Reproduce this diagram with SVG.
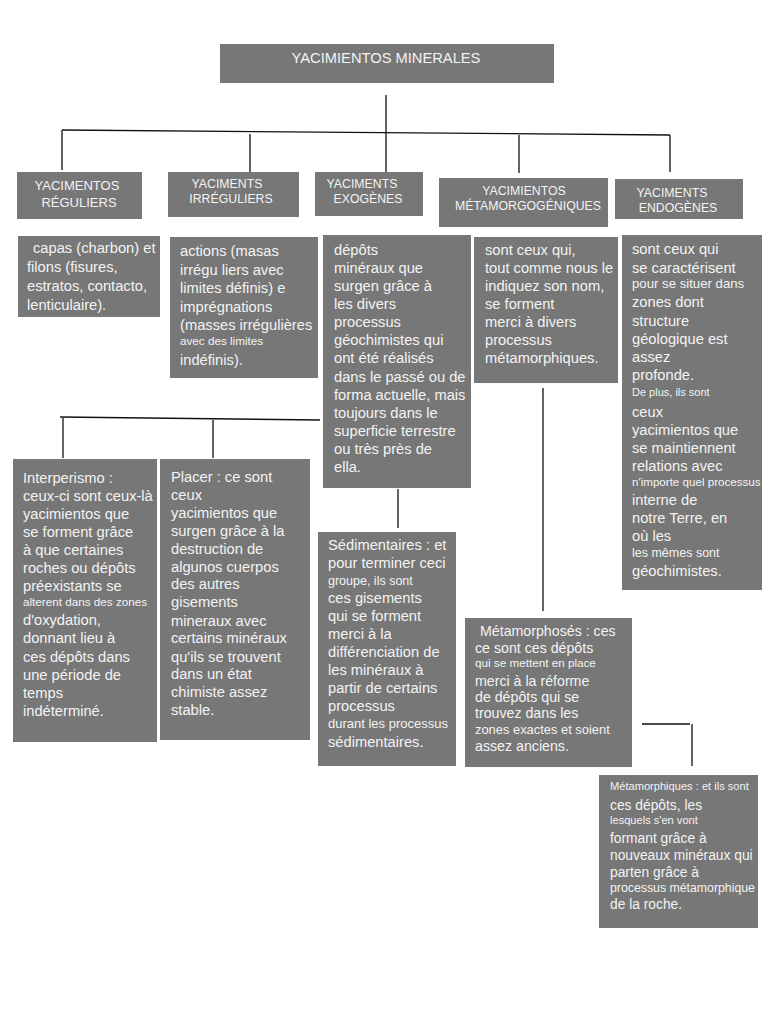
<svg xmlns="http://www.w3.org/2000/svg" width="768" height="1024" viewBox="0 0 768 1024">
<style>
.box{fill:#777777}
.t{font-family:"Liberation Sans",Arial,sans-serif;fill:#f3f3f3;font-size:14.7px}
.s{font-size:11.7px}
.m{font-size:12.5px}
.h{font-size:13px}
.hs{font-size:12.3px}
.ln{stroke:#111;stroke-width:1.3;fill:none}
</style>
<rect width="768" height="1024" fill="#ffffff"/>
<g id="connectors">
<path class="ln" d="M386 95 V131"/>
<path class="ln" d="M62 130 L670 135"/>
<path class="ln" d="M62 130 V170"/>
<path class="ln" d="M250 134 V172"/>
<path class="ln" d="M386 131 V172"/>
<path class="ln" d="M519 135 V173"/>
<path class="ln" d="M670 135 V172"/>
<path class="ln" d="M60 417 L320 420"/>
<path class="ln" d="M63 418 V458"/>
<path class="ln" d="M213 420 V458"/>
<path class="ln" d="M398 489 V528"/>
<path class="ln" d="M543 388 V611"/>
<path class="ln" d="M642 724 H690"/>
<path class="ln" d="M692 724 V766"/>
</g>
<g id="root">
<rect class="box" x="220" y="44" width="334" height="39"/>
<text class="t" x="386" y="63" text-anchor="middle">YACIMIENTOS MINERALES</text>
</g>
<g id="reguliers">
<rect class="box" x="17" y="172" width="125" height="47"/>
<text class="t h" text-anchor="middle"><tspan x="77" y="190">YACIMENTOS</tspan><tspan x="79" y="207">RÉGULIERS</tspan></text>
</g>
<g id="irreguliers">
<rect class="box" x="168" y="172" width="131" height="45"/>
<text class="t hs" text-anchor="middle"><tspan x="227" y="188">YACIMENTS</tspan><tspan x="231" y="203">IRRÉGULIERS</tspan></text>
</g>
<g id="exogenes">
<rect class="box" x="315" y="172" width="108" height="44"/>
<text class="t hs" text-anchor="middle"><tspan x="362" y="188">YACIMENTS</tspan><tspan x="368" y="203">EXOGÈNES</tspan></text>
</g>
<g id="metamorgogeniques">
<rect class="box" x="439" y="178" width="169" height="49"/>
<text class="t hs" text-anchor="middle"><tspan x="524" y="195">YACIMIENTOS</tspan><tspan x="528" y="210">MÉTAMORGOGÉNIQUES</tspan></text>
</g>
<g id="endogenes">
<rect class="box" x="615" y="179" width="128" height="40"/>
<text class="t hs" text-anchor="middle"><tspan x="672" y="197">YACIMENTS</tspan><tspan x="678" y="212">ENDOGÈNES</tspan></text>
</g>
<g id="capas">
<rect class="box" x="18" y="236" width="142" height="81"/>
<text class="t"><tspan x="33" y="253">capas (charbon) et</tspan><tspan x="27" y="272">filons (fisures,</tspan><tspan x="27" y="291">estratos, contacto,</tspan><tspan x="27" y="310">lenticulaire).</tspan></text>
</g>
<g id="actions">
<rect class="box" x="170" y="237" width="148" height="141"/>
<text class="t"><tspan x="180" y="256">actions (masas</tspan><tspan x="180" y="275">irrégu liers avec</tspan><tspan x="180" y="293">limites définis) e</tspan><tspan x="180" y="312">imprégnations</tspan><tspan x="180" y="330">(masses irrégulières</tspan><tspan x="180" y="345" class="s">avec des limites</tspan><tspan x="180" y="365">indéfinis).</tspan></text>
</g>
<g id="depots">
<rect class="box" x="323" y="235" width="148" height="253"/>
<text class="t"><tspan x="334" y="255">dépôts</tspan><tspan x="334" y="273">minéraux que</tspan><tspan x="334" y="291">surgen grâce à</tspan><tspan x="334" y="309">les divers</tspan><tspan x="334" y="327">processus</tspan><tspan x="334" y="345">géochimistes qui</tspan><tspan x="334" y="363">ont été réalisés</tspan><tspan x="334" y="382">dans le passé ou de</tspan><tspan x="334" y="400">forma actuelle, mais</tspan><tspan x="334" y="418">toujours dans le</tspan><tspan x="334" y="436">superficie terrestre</tspan><tspan x="334" y="454">ou très près de</tspan><tspan x="334" y="472">ella.</tspan></text>
</g>
<g id="sont-ceux-meta">
<rect class="box" x="474" y="237" width="144" height="146"/>
<text class="t"><tspan x="485" y="255">sont ceux qui,</tspan><tspan x="485" y="273">tout comme nous le</tspan><tspan x="485" y="291">indiquez son nom,</tspan><tspan x="485" y="309">se forment</tspan><tspan x="485" y="327">merci à divers</tspan><tspan x="485" y="345">processus</tspan><tspan x="485" y="363">métamorphiques.</tspan></text>
</g>
<g id="sont-ceux-endo">
<rect class="box" x="622" y="235" width="140" height="355"/>
<text class="t"><tspan x="632" y="254">sont ceux qui</tspan><tspan x="632" y="273">se caractérisent</tspan><tspan x="632" y="288" style="font-size:13.2px">pour se situer dans</tspan><tspan x="632" y="307">zones dont</tspan><tspan x="632" y="326">structure</tspan><tspan x="632" y="344">géologique est</tspan><tspan x="632" y="362">assez</tspan><tspan x="632" y="380">profonde.</tspan><tspan x="632" y="396" style="font-size:11px">De plus, ils sont</tspan><tspan x="632" y="417">ceux</tspan><tspan x="632" y="435">yacimientos que</tspan><tspan x="632" y="453">se maintiennent</tspan><tspan x="632" y="471">relations avec</tspan><tspan x="632" y="486" style="font-size:11.6px">n'importe quel processus</tspan><tspan x="632" y="505">interne de</tspan><tspan x="632" y="523">notre Terre, en</tspan><tspan x="632" y="541">où les</tspan><tspan x="632" y="557" class="m">les mêmes sont</tspan><tspan x="632" y="576">géochimistes.</tspan></text>
</g>
<g id="interperismo">
<rect class="box" x="13" y="459" width="144" height="283"/>
<text class="t"><tspan x="23" y="483">Interperismo :</tspan><tspan x="23" y="501">ceux-ci sont ceux-là</tspan><tspan x="23" y="519">yacimientos que</tspan><tspan x="23" y="537">se forment grâce</tspan><tspan x="23" y="555">à que certaines</tspan><tspan x="23" y="573">roches ou dépôts</tspan><tspan x="23" y="591">préexistants se</tspan><tspan x="23" y="606" class="s">alterent dans des zones</tspan><tspan x="23" y="625">d'oxydation,</tspan><tspan x="23" y="643">donnant lieu à</tspan><tspan x="23" y="662">ces dépôts dans</tspan><tspan x="23" y="680">une période de</tspan><tspan x="23" y="698">temps</tspan><tspan x="23" y="716">indéterminé.</tspan></text>
</g>
<g id="placer">
<rect class="box" x="160" y="459" width="150" height="281"/>
<text class="t"><tspan x="171" y="482">Placer : ce sont</tspan><tspan x="171" y="500">ceux</tspan><tspan x="171" y="518">yacimientos que</tspan><tspan x="171" y="536">surgen grâce à la</tspan><tspan x="171" y="554">destruction de</tspan><tspan x="171" y="572">algunos cuerpos</tspan><tspan x="171" y="589">des autres</tspan><tspan x="171" y="607">gisements</tspan><tspan x="171" y="626">mineraux avec</tspan><tspan x="171" y="643">certains minéraux</tspan><tspan x="171" y="662">qu'ils se trouvent</tspan><tspan x="171" y="679">dans un état</tspan><tspan x="171" y="697">chimiste assez</tspan><tspan x="171" y="715">stable.</tspan></text>
</g>
<g id="sedimentaires">
<rect class="box" x="318" y="532" width="138" height="234"/>
<text class="t"><tspan x="328" y="550">Sédimentaires : et</tspan><tspan x="328" y="568">pour terminer ceci</tspan><tspan x="328" y="585" class="m">groupe, ils sont</tspan><tspan x="328" y="603">ces gisements</tspan><tspan x="328" y="621">qui se forment</tspan><tspan x="328" y="639">merci à la</tspan><tspan x="328" y="657">différenciation de</tspan><tspan x="328" y="675">les minéraux à</tspan><tspan x="328" y="693">partir de certains</tspan><tspan x="328" y="711">processus</tspan><tspan x="328" y="728" style="font-size:13px">durant les processus</tspan><tspan x="328" y="747">sédimentaires.</tspan></text>
</g>
<g id="metamorphoses">
<rect class="box" x="465" y="618" width="167" height="149"/>
<text class="t" style="font-size:14.2px"><tspan x="480" y="636">Métamorphosés : ces</tspan><tspan x="475" y="653">ce sont ces dépôts</tspan><tspan x="475" y="667" class="s">qui se mettent en place</tspan><tspan x="475" y="686">merci à la réforme</tspan><tspan x="475" y="702">de dépôts qui se</tspan><tspan x="475" y="718">trouvez dans les</tspan><tspan x="475" y="734" style="font-size:12.9px">zones exactes et soient</tspan><tspan x="475" y="751">assez anciens.</tspan></text>
</g>
<g id="metamorphiques">
<rect class="box" x="599" y="775" width="159" height="153"/>
<text class="t" style="font-size:13.8px"><tspan x="610" y="790" style="font-size:11.1px">Métamorphiques : et ils sont</tspan><tspan x="610" y="810">ces dépôts, les</tspan><tspan x="610" y="824" style="font-size:11.1px">lesquels s'en vont</tspan><tspan x="610" y="843">formant grâce à</tspan><tspan x="610" y="860">nouveaux minéraux qui</tspan><tspan x="610" y="877">parten grâce à</tspan><tspan x="610" y="892" style="font-size:12.3px">processus métamorphique</tspan><tspan x="610" y="909">de la roche.</tspan></text>
</g>
</svg>
